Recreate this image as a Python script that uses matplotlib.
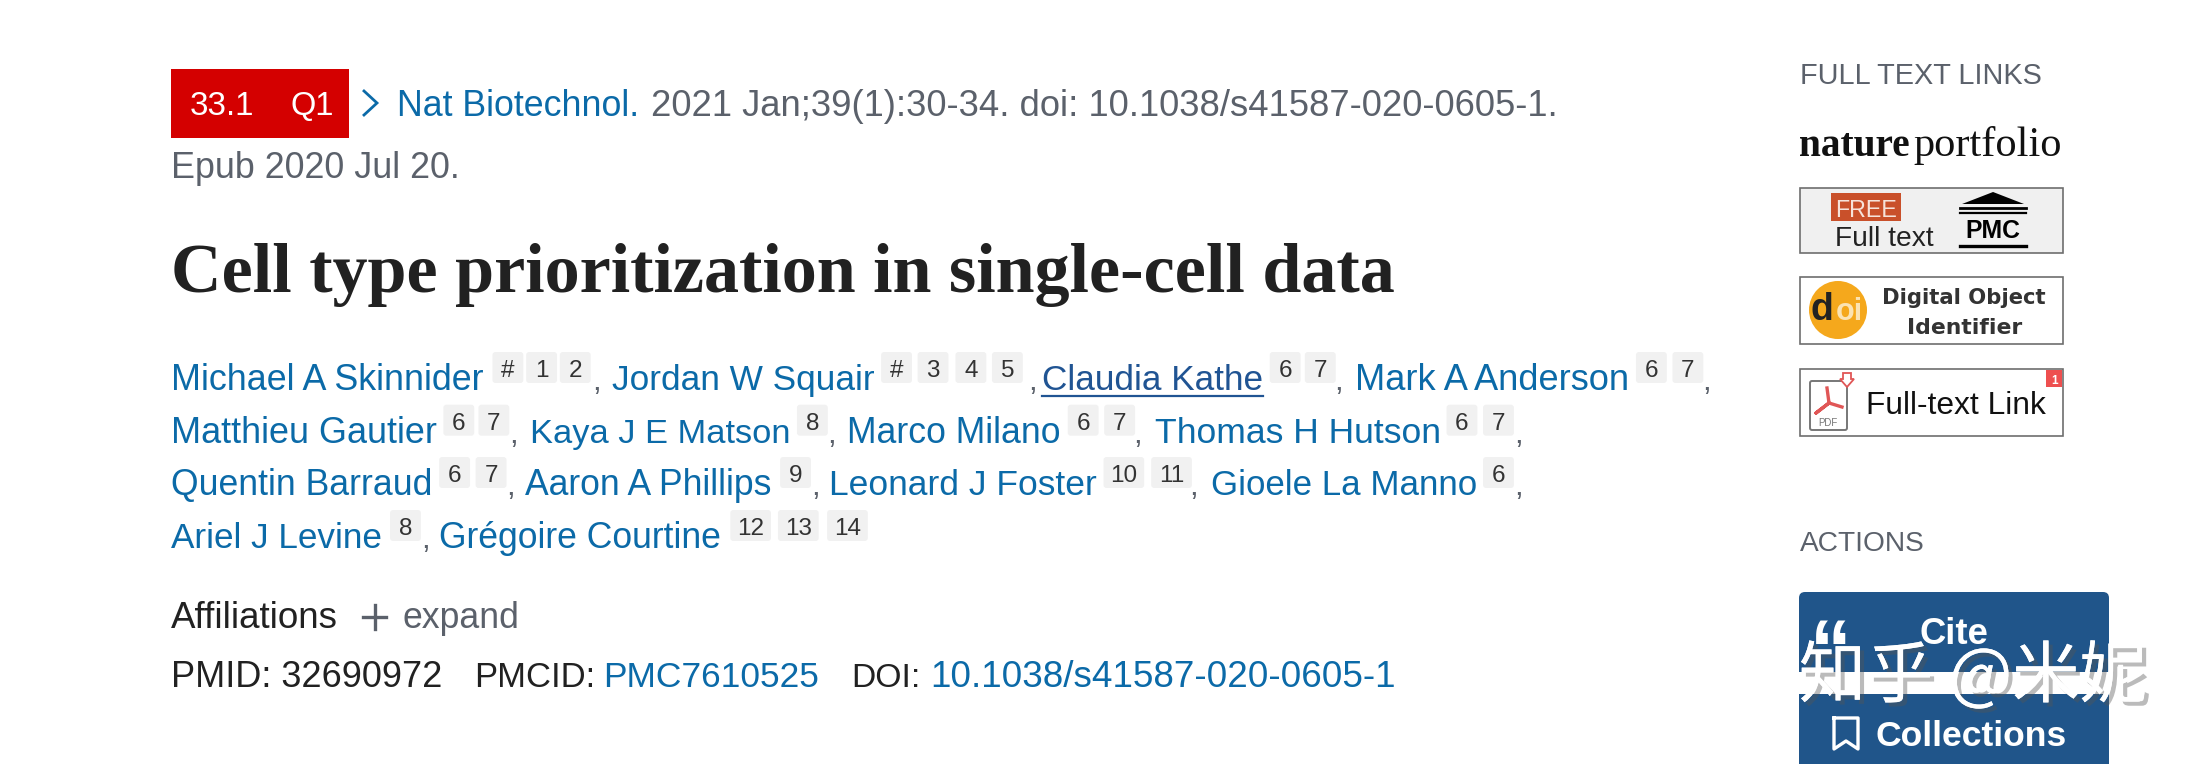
import matplotlib
matplotlib.use("Agg")
import matplotlib.pyplot as plt
from matplotlib.patches import Rectangle, FancyBboxPatch, Circle, Polygon
import matplotlib.patheffects as pe

# ---- content ----
BADGE = ["33.1", "Q1"]
JOURNAL = "Nat Biotechnol."
CITATION = "2021 Jan;39(1):30-34. doi: 10.1038/s41587-020-0605-1."
EPUB = "Epub 2020 Jul 20."
TITLE = "Cell type prioritization in single-cell data"
AUTHORS_1 = ["Michael A Skinnider", "Jordan W Squair", "Claudia Kathe", "Mark A Anderson"]
AUTHORS_2 = ["Matthieu Gautier", "Kaya J E Matson", "Marco Milano", "Thomas H Hutson"]
AUTHORS_3 = ["Quentin Barraud", "Aaron A Phillips", "Leonard J Foster", "Gioele La Manno"]
AUTHORS_4 = ["Ariel J Levine", "Grégoire Courtine"]
SUPS_1 = ["#", "1", "2", "#", "3", "4", "5", "6", "7", "6", "7"]
SUPS_2 = ["6", "7", "8", "6", "7", "6", "7"]
SUPS_3 = ["6", "7", "9", "10", "11", "6"]
SUPS_4 = ["8", "12", "13", "14"]
IDS = ["PMID: 32690972", "PMCID:", "PMC7610525", "DOI:", "10.1038/s41587-020-0605-1"]
SIDEBAR = ["FULL TEXT LINKS", "ACTIONS"]
WATERMARK = "知乎 @米妮"

# ---- colours ----
BLUE = "#0b6aa8"
GRAY = "#5b616b"
DARK = "#212121"
BTN = "#20558a"
SANS = ["Liberation Sans", "DejaVu Sans"]

S = 2200 / 1568  # layout spans below were measured on a 1568 px wide view

fig = plt.figure(figsize=(22, 7.64), dpi=100, facecolor="white")
ax = fig.add_axes([0, 0, 1, 1])
ax.set_xlim(0, 2200)
ax.set_ylim(764, 0)
ax.axis("off")
rend = fig.canvas.get_renderer()


def put(s, x0, x1, y, color=DARK, family=SANS, weight="normal", size=20, z=3):
    """Text with its left edge at x0, stretched by font size to end at x1 (view coords); y = baseline in px."""
    t = ax.text(x0 * S, y, s, color=color, family=family, weight=weight, fontsize=size,
                ha="left", va="baseline", zorder=z)
    w = t.get_window_extent(rend).width
    t.set_fontsize(size * (x1 - x0) * S / w)
    return t


def sup(s, cx, base):
    w = 22 if len(s) == 1 else 29
    ax.add_patch(FancyBboxPatch((cx * S - w * S / 2 + 3, base - 38 + 3), w * S - 6, 31 - 6,
                                boxstyle="round,pad=3", fc="#f1f1f1", ec="none", zorder=2))
    ax.text(cx * S, base - 13, s, color="#333333", family=SANS, fontsize=17.5,
            ha="center", va="baseline", zorder=3)


def comma(x, base):
    ax.text(x * S, base, ",", color=GRAY, family=SANS, fontsize=22.5, ha="center", va="baseline", zorder=3)


# ---- header ----
ax.add_patch(Rectangle((171, 69), 178, 69, fc="#d40000", ec="none"))
put(BADGE[0], 135, 181, 115, "white", size=24)
put(BADGE[1], 207, 238, 115, "white", size=24)
ax.plot([364, 377, 364], [91, 103, 115], color=BLUE, lw=2.0, solid_joinstyle="miter")
put(JOURNAL, 283, 456, 116.5, BLUE, size=24)
put(CITATION, 464, 1110, 116.5, GRAY, size=24)
put(EPUB, 122, 328, 178.5, GRAY, size=24)
put(TITLE, 122, 995, 292, DARK, family=["Liberation Serif"], weight="bold", size=38)

# ---- authors ----
B = [390, 442.7, 495, 548]
put(AUTHORS_1[0], 122, 345, B[0], BLUE); put(AUTHORS_1[1], 436, 623, B[0], BLUE)
put(AUTHORS_1[2], 743, 900, B[0], "#205493"); put(AUTHORS_1[3], 966, 1161, B[0], BLUE)
ax.plot([743 * S, 900 * S], [B[0] + 6, B[0] + 6], color="#205493", lw=1.6, zorder=3)
for s, c in zip(SUPS_1, [362, 386, 410, 639, 665, 692, 718, 916, 941, 1177, 1203]):
    sup(s, c, B[0])
for c in [425, 736, 954, 1216]:
    comma(c, B[0])

put(AUTHORS_2[0], 122, 311, B[1], BLUE); put(AUTHORS_2[1], 378, 563, B[1], BLUE)
put(AUTHORS_2[2], 604, 756, B[1], BLUE); put(AUTHORS_2[3], 823, 1026, B[1], BLUE)
for s, c in zip(SUPS_2, [327, 352, 579, 772, 798, 1042, 1068]):
    sup(s, c, B[1])
for c in [366, 593, 811, 1082]:
    comma(c, B[1])

put(AUTHORS_3[0], 122, 308, B[2], BLUE); put(AUTHORS_3[1], 374, 550, B[2], BLUE)
put(AUTHORS_3[2], 591, 781, B[2], BLUE); put(AUTHORS_3[3], 863, 1052, B[2], BLUE)
for s, c in zip(SUPS_3, [324, 350, 567, 801, 835, 1068]):
    sup(s, c, B[2])
for c in [364, 581, 851, 1082]:
    comma(c, B[2])

put(AUTHORS_4[0], 122, 272, B[3], BLUE); put(AUTHORS_4[1], 313, 514, B[3], BLUE)
for s, c in zip(SUPS_4, [289, 535, 569, 604]):
    sup(s, c, B[3])
comma(303, B[3])

# ---- affiliations / ids ----
put("Affiliations", 122, 241, 628, DARK)
ax.plot([267 * S, 267 * S], [605, 629], color=GRAY, lw=2.4)
ax.plot([259 * S, 275 * S], [617, 617], color=GRAY, lw=2.4)
put("expand", 287, 370, 628, GRAY)
put(IDS[0], 122, 315, 687, DARK)
put(IDS[1], 338, 424, 687, DARK)
put(IDS[2], 430, 584, 687, BLUE)
put(IDS[3], 607, 656, 687, DARK)
put(IDS[4], 663, 995, 687, BLUE)

# ---- sidebar ----
put(SIDEBAR[0], 1283, 1455, 84, GRAY, size=20)
put("nature", 1282, 1361, 156, "#111111", family=["Liberation Serif"], weight="bold", size=28)
put("portfolio", 1364, 1470, 156, "#111111", family=["Liberation Serif"], size=28)

BL, BW = 1283 * S, 187 * S
# PMC box
ax.add_patch(Rectangle((BL, 188), BW, 65, fc="#f0f0f0", ec="#6e6e6e", lw=1.2))
ax.add_patch(Rectangle((1305 * S, 193), 50 * S, 28, fc="#c9502a", ec="none", zorder=2))
put("FREE", 1308, 1352, 217, "#f6e3da", size=18)
put("Full text", 1308, 1378, 246, "#222222", size=18)
ax.add_patch(Polygon([(1397 * S + 2, 204), (1420.5 * S, 192), (1444 * S - 2, 204)], fc="black", ec="none", zorder=3))
ax.plot([1397 * S, 1444 * S], [208, 208], color="black", lw=2, zorder=3)
ax.plot([1397 * S, 1444 * S], [213, 213], color="black", lw=1.6, zorder=3)
put("PMC", 1401, 1440, 238, "black", weight="bold", size=18)
ax.plot([1397 * S, 1444 * S], [246, 246], color="black", lw=2.4, zorder=3)
# DOI box
ax.add_patch(Rectangle((BL, 277), BW, 67, fc="white", ec="#6e6e6e", lw=1.2))
ax.add_patch(Circle((1838, 310), 29, fc="#f5a81c", ec="none", zorder=2))
ax.text(1822, 320, "d", family=SANS, weight="bold", fontsize=27, color="#222222", ha="center", va="baseline", zorder=3)
ax.text(1849, 320, "oi", family=SANS, weight="bold", fontsize=22, color="#fbe3b3", ha="center", va="baseline", zorder=3)
put("Digital Object", 1341, 1458, 304, "#333333", family=["DejaVu Sans"], weight="bold", size=14)
put("Identifier", 1359, 1441, 334, "#333333", family=["DejaVu Sans"], weight="bold", size=14)
# Full-text box
ax.add_patch(Rectangle((BL, 369), BW, 67, fc="white", ec="#6e6e6e", lw=1.2))
ax.add_patch(FancyBboxPatch((1812, 383), 33, 45, boxstyle="round,pad=2", fc="white", ec="#777777", lw=1.4, zorder=2))
ax.plot([1827, 1829, 1816, 1829, 1842], [388, 403, 413, 403, 407], color="#e05656", lw=2.4, zorder=3)
ax.text(1828, 426, "PDF", family=SANS, fontsize=7, color="#777777", ha="center", va="baseline", zorder=3)
ax.add_patch(Polygon([(1843, 373), (1851, 373), (1851, 379), (1854, 379), (1847, 387), (1840, 379), (1843, 379)],
                     fc="white", ec="#e05656", lw=1.3, zorder=3))
put("Full-text Link", 1330, 1458, 414, "#111111", size=20)
ax.add_patch(Rectangle((1458 * S, 370), 12 * S - 1, 17, fc="#ee4f4f", ec="none", zorder=3))
ax.text(1464.5 * S, 384, "1", family=SANS, weight="bold", fontsize=8.5, color="white", ha="center", va="baseline", zorder=4)

put(SIDEBAR[1], 1283, 1372, 551, GRAY, size=20)

# ---- button ----
ax.add_patch(FancyBboxPatch((1799 + 6, 592 + 6), 310 - 12, 200, boxstyle="round,pad=6", fc=BTN, ec="none", zorder=1))
ax.add_patch(Rectangle((1795, 672), 320, 22, fc="white", ec="none", zorder=1.5))
ax.text(1305 * S, 678, "\u201c", family=SANS, weight="bold", fontsize=60, color="white", ha="center", va="baseline", zorder=2)
put("Cite", 1368, 1417, 644, "white", weight="bold", size=22, z=2)
put("Collections", 1337, 1473, 746, "white", weight="bold", size=22, z=2)
ax.plot([1834, 1834, 1846, 1858, 1858, 1834], [718, 749, 741, 749, 718, 718], color="white", lw=2.4, zorder=2,
        solid_joinstyle="round")

# ---- watermark ----
wm = ax.text(1282 * S, 697, WATERMARK, family=["Noto Sans CJK SC", "DejaVu Sans"], fontsize=48, color="white",
             ha="left", va="baseline", zorder=6)
w = wm.get_window_extent(rend).width
wm.set_fontsize(48 * (1530 - 1282) * S / w)
wm.set_path_effects([pe.withSimplePatchShadow(offset=(3, -3), shadow_rgbFace="#555555", alpha=0.4), pe.Normal()])

fig.savefig("out.png", dpi=100, facecolor="white")
